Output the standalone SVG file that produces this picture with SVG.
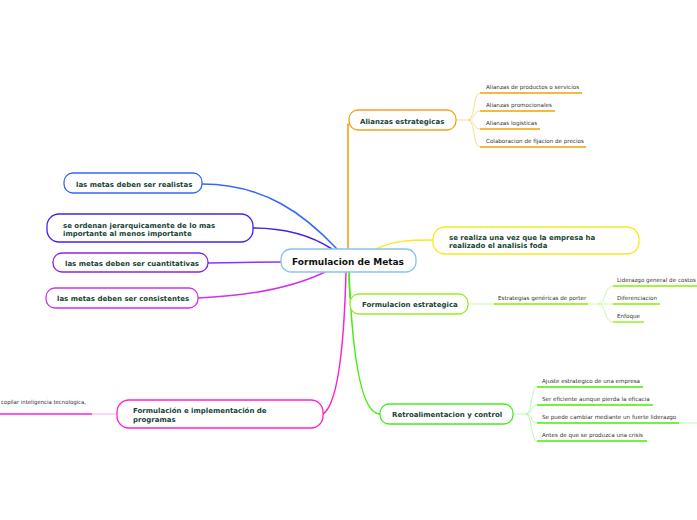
<svg xmlns="http://www.w3.org/2000/svg" width="697" height="520" viewBox="0 0 697 520">
<style>
.nt{font-family:"DejaVu Sans",Verdana,sans-serif;font-weight:bold;font-size:7px;fill:#174535}
.ct{font-family:"DejaVu Sans",Verdana,sans-serif;font-weight:bold;font-size:9px;fill:#111}
.st{font-family:"DejaVu Sans",Verdana,sans-serif;font-size:5.6px;fill:#333}
.box{fill:#fff;stroke-width:1.3}
.c{fill:none;stroke-width:1.5;stroke-linecap:round}
.thin{fill:none;stroke-width:0.8}
.ul{fill:none;stroke-width:1.3}
</style>
<rect width="697" height="520" fill="#fff"/>
<g id="connectors">
<path class="c" stroke="#f59a00" d="M348,249 V124"/>
<path class="c" stroke="#eeee22" stroke-width="1" d="M376,249 C395,240 410,240 433,240"/>
<path class="c" stroke="#3366ff" d="M202,184 C265,184 305,215 337,249"/>
<path class="c" stroke="#4422ee" d="M253,228 C290,228 315,238 332,249"/>
<path class="c" stroke="#8833ff" d="M208,263 L281,262"/>
<path class="c" stroke="#cc33ee" d="M198,298 C245,296 292,288 325,272"/>
<path class="c" stroke="#ff22cc" d="M346,272 C344,350 337,405 323,414"/>
<path class="c" stroke="#55ee11" d="M349,272 C349,290 350,300 352,304"/>
<path class="c" stroke="#44ee11" d="M349,272 C352,350 360,414 380,414"/>
<g stroke="#fcd080" class="thin">
<path d="M456,120 H468 C475,120 473,93 480,93"/>
<path d="M468,120 C475,120 473,111 480,111"/>
<path d="M468,120 C475,120 473,129 480,129"/>
<path d="M468,120 C475,120 473,147 480,147"/>
</g>
<g stroke="#f5a000" class="ul">
<path d="M480,93 H582"/><path d="M480,111 H555"/><path d="M480,129 H540"/><path d="M480,147 H586"/>
</g>
<g stroke="#c4f28a" class="thin">
<path d="M468,304 H494"/>
<path d="M588,304 H598 C606,304 604,286 613,286"/>
<path d="M598,304 H613"/>
<path d="M598,304 C606,304 604,322 613,322"/>
</g>
<g stroke="#88ee00" class="ul">
<path d="M494,304 H588"/><path d="M613,286 H697"/><path d="M613,304 H660"/><path d="M613,322 H644"/>
</g>
<g stroke="#a8f59a" class="thin">
<path d="M513,414 H526 C532,414 531,387 537,387"/>
<path d="M526,414 C532,414 531,405 537,405"/>
<path d="M526,414 C532,414 531,423 537,423"/>
<path d="M526,414 C532,414 531,441 537,441"/>
<path d="M679,423 H697"/>
</g>
<g stroke="#44ee00" class="ul">
<path d="M537,387 H643"/><path d="M537,405 H653"/><path d="M537,423 H679"/><path d="M537,441 H647"/>
</g>
<path class="thin" stroke="#ff99e6" d="M117,414 H92"/>
<path class="ul" stroke="#ff22cc" d="M0,414 H92"/>
</g>
<g id="center">
<rect class="box" x="281" y="249" width="135" height="23" rx="10" stroke="#8ac4ea"/>
<text class="ct" x="348" y="264.5" text-anchor="middle">Formulacion de Metas</text>
</g>
<g id="alianzas">
<rect class="box" x="349" y="110" width="107" height="20" rx="9" stroke="#f5a020"/>
<text class="nt" x="360" y="123.5">Alianzas estrategicas</text>
</g>
<g id="alianzas-children">
<text class="st" x="486" y="89">Alianzas de productos o servicios</text>
<text class="st" x="486" y="107">Alianzas promocionales</text>
<text class="st" x="486" y="125">Alianzas logisticas</text>
<text class="st" x="486" y="143">Colaboracion de fijacion de precios</text>
</g>
<g id="foda">
<rect class="box" x="433" y="227" width="206" height="27" rx="12" stroke="#eeee22"/>
<text class="nt" x="449" y="239.5">se realiza una vez que la empresa ha</text>
<text class="nt" x="449" y="247.5">realizado el analisis foda</text>
</g>
<g id="form-estrategica">
<rect class="box" x="350" y="294" width="118" height="20" rx="9" stroke="#99ee22"/>
<text class="nt" x="362" y="306.5">Formulacion estrategica</text>
</g>
<g id="porter">
<text class="st" x="498" y="300">Estrategias genéricas de porter</text>
<text class="st" x="617" y="282">Liderazgo general de costos</text>
<text class="st" x="617" y="300">Diferenciacion</text>
<text class="st" x="617" y="318">Enfoque</text>
</g>
<g id="retro">
<rect class="box" x="380" y="404" width="133" height="20" rx="9" stroke="#44ee22"/>
<text class="nt" x="392" y="416.5">Retroalimentacion y control</text>
</g>
<g id="retro-children">
<text class="st" x="542" y="383">Ajuste estrategico de una empresa</text>
<text class="st" x="542" y="401">Ser eficiente aunque pierda la eficacia</text>
<text class="st" x="542" y="419">Se puede cambiar mediante un fuerte liderazgo</text>
<text class="st" x="542" y="437">Antes de que se produzca una crisis</text>
</g>
<g id="realistas">
<rect class="box" x="64" y="173" width="138" height="20" rx="9" stroke="#3366ff"/>
<text class="nt" x="76" y="186.5">las metas deben ser realistas</text>
</g>
<g id="jerarquicamente">
<rect class="box" x="47" y="214" width="206" height="28" rx="12" stroke="#4422ee"/>
<text class="nt" x="63" y="227.5">se ordenan jerarquicamente de lo mas</text>
<text class="nt" x="63" y="235.5">importante al menos importante</text>
</g>
<g id="cuantitativas">
<rect class="box" x="53" y="253" width="155" height="19" rx="9" stroke="#8822ee"/>
<text class="nt" x="65" y="265.5">las metas deben ser cuantitativas</text>
</g>
<g id="consistentes">
<rect class="box" x="46" y="288" width="152" height="20" rx="9" stroke="#cc33ee"/>
<text class="nt" x="57" y="300.5">las metas deben ser consistentes</text>
</g>
<g id="programas">
<rect class="box" x="117" y="400" width="206" height="28" rx="12" stroke="#ff22cc"/>
<text class="nt" x="133" y="412.5">Formulación e implementación de</text>
<text class="nt" x="133" y="421.5">programas</text>
</g>
<g id="programas-child">
<text class="st" x="1" y="404" textLength="85" lengthAdjust="spacingAndGlyphs">copilar inteligencia tecnologica,</text>
</g>
</svg>
